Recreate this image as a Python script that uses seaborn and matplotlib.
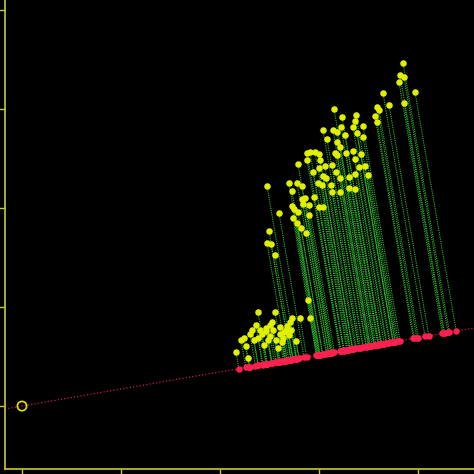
import numpy as np
import pandas as pd
import matplotlib
matplotlib.use("Agg")
import matplotlib.pyplot as plt
import seaborn as sns

# yellow observation points (data units)
px = [236,248,241,244,252,256,258,262,266,270,273,275,276,280,284,287,290,289,292,296,268,258,264,282,278,246,
      267,279,269,267,271,289,292,297,302,298,292,294,298,302,305,303,309,309,293,297,301,306,314,319,323,318,322,
      313,319,325,332,323,326,307,310,315,319,307,320,323,327,334,335,337,336,340,331,332,340,333,337,341,342,337,
      340,345,346,349,349,355,353,355,359,355,361,365,368,363,363,357,353,355,356,375,377,377,379,383,389,400,403,
      404,399,404,415,275,308,310,300,
      250,260,270,272,280,286,254,266,283,291]
py = [352,358,340,338,330,325,312,334,328,325,330,312,340,334,332,326,322,335,318,341,340,338,345,342,348,346,
      186,213,231,243,244,183,191,183,186,164,206,209,212,199,198,204,205,215,218,223,228,233,197,207,207,183,185,
      172,168,166,165,176,178,153,152,152,154,160,160,130,139,109,153,155,172,178,185,192,192,130,132,127,117,142,
      147,135,153,177,188,189,151,159,167,174,154,166,175,137,126,133,127,121,115,116,122,107,110,93,105,75,63,
      77,82,103,92,255,300,318,318,
      334,330,336,322,327,330,340,331,338,330]
x_vals = [(p - 22) / 99 for p in px]
y_vals = [(406 - p) / 99 for p in py]
origin = [0.0, 0.0]
slope = 0.1726

sns.set_style("dark")
fig = plt.figure(figsize=(4.74, 4.74), dpi=100, facecolor="black")
ax = fig.add_axes([0.0105, 0.0105, 0.9895, 0.9895])
ax.set_facecolor("black")

X = np.array(x_vals); Y = np.array(y_vals)
u = np.array([1.0, slope]); u /= np.linalg.norm(u)
t = X * u[0] + Y * u[1]
rx, ry = t * u[0], t * u[1]

ax.axline(origin, slope=slope, color="#ff2050", ls=(0, (1, 2)), lw=0.8, zorder=1)
for a, b, c, d in zip(X, Y, rx, ry):
    ax.plot([a, c], [b, d], color="#2db82d", ls=(0, (1, 1)), lw=0.8, zorder=2)

df = pd.DataFrame({"x": X, "y": Y, "rx": rx, "ry": ry})
sns.scatterplot(data=df, x="rx", y="ry", ax=ax, color="#ff2050", s=22, linewidth=0, zorder=3)
sns.scatterplot(data=df, x="x", y="y", ax=ax, color="#e0f000", s=22, linewidth=0, zorder=4)
ax.scatter([origin[0]], [origin[1]], s=45, facecolors="none", edgecolors="#e8e000", linewidths=1.2, zorder=5)

ax.set_xlim(-0.172, 4.566)
ax.set_ylim(-0.636, 4.101)
ax.set_xticks([0, 1, 2, 3, 4]); ax.set_yticks([0, 1, 2, 3, 4])
ax.set_xticklabels([]); ax.set_yticklabels([])
ax.set_xlabel(""); ax.set_ylabel("")
ax.grid(False)
ax.tick_params(colors="#c8c832", length=4, width=1, direction="out", bottom=True, left=True)
for s in ["left", "bottom"]:
    ax.spines[s].set_visible(True); ax.spines[s].set_color("#c8c832"); ax.spines[s].set_linewidth(1.2)
for s in ["top", "right"]:
    ax.spines[s].set_visible(False)
fig.savefig("out.png", dpi=100, facecolor="black")
